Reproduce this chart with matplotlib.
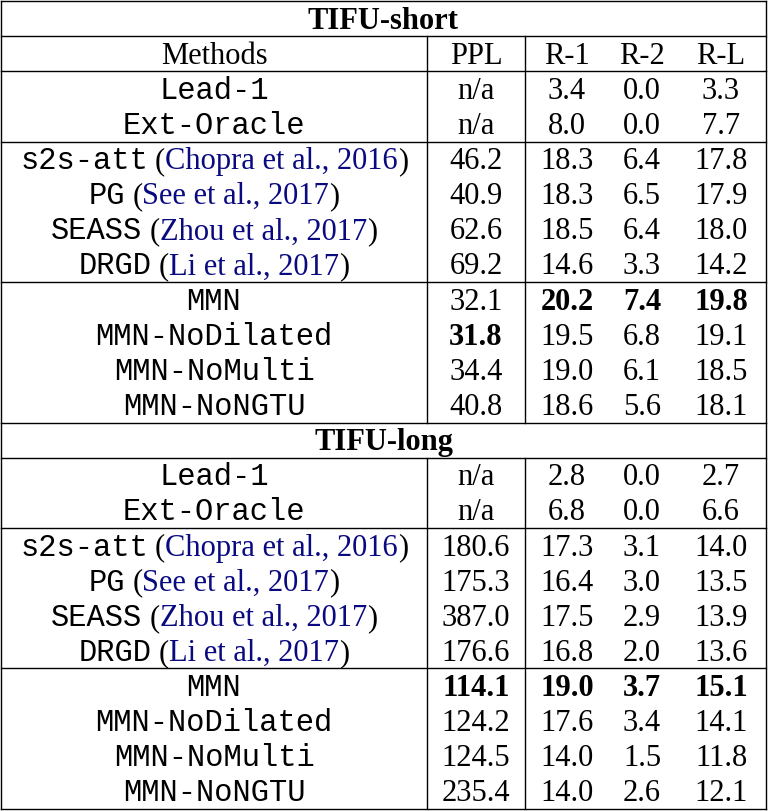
import numpy as np
import matplotlib
matplotlib.use("Agg")
import matplotlib.pyplot as plt

# ---- data ----
methods = ["Lead-1", "Ext-Oracle", "s2s-att", "PG", "SEASS", "DRGD",
           "MMN", "MMN-NoDilated", "MMN-NoMulti", "MMN-NoNGTU"]
cites = [None, None, "Chopra et al., 2016", "See et al., 2017",
         "Zhou et al., 2017", "Li et al., 2017", None, None, None, None]
columns = ["PPL", "R-1", "R-2", "R-L"]

short_ppl = [np.nan, np.nan, 46.2, 40.9, 62.6, 69.2, 32.1, 31.8, 34.4, 40.8]
short_r1 = [3.4, 8.0, 18.3, 18.3, 18.5, 14.6, 20.2, 19.5, 19.0, 18.6]
short_r2 = [0.0, 0.0, 6.4, 6.5, 6.4, 3.3, 7.4, 6.8, 6.1, 5.6]
short_rl = [3.3, 7.7, 17.8, 17.9, 18.0, 14.2, 19.8, 19.1, 18.5, 18.1]

long_ppl = [np.nan, np.nan, 180.6, 175.3, 387.0, 176.6, 114.1, 124.2, 124.5, 235.4]
long_r1 = [2.8, 6.8, 17.3, 16.4, 17.5, 16.8, 19.0, 17.6, 14.0, 14.0]
long_r2 = [0.0, 0.0, 3.1, 3.0, 2.9, 2.0, 3.7, 3.4, 1.5, 2.6]
long_rl = [2.7, 6.6, 14.0, 13.5, 13.9, 13.6, 15.1, 14.1, 11.8, 12.1]

sections = [("TIFU-short", [short_ppl, short_r1, short_r2, short_rl]),
            ("TIFU-long", [long_ppl, long_r1, long_r2, long_rl])]

# ---- layout ----
W, H = 769, 812
SERIF = "Liberation Serif"
MONO = "Liberation Mono"
FS = 22      # serif size (pt)
FS_MONO = 22
BLUE = "#0a0a80"

top, bottom = 2, 810
row_h = (bottom - top) / 23
x_left, x_meth, x_ppl, x_right = 1, 427, 525, 766
col_x = [476, 567, 642, 721]
meth_cx = 214
base_off = 9

fig = plt.figure(figsize=(W / 100, H / 100), dpi=100)
ax = fig.add_axes([0, 0, 1, 1])
ax.set_xlim(0, W)
ax.set_ylim(H, 0)
ax.axis("off")
renderer = fig.canvas.get_renderer()


def yrow(i):
    return top + row_h * (i + 0.5) + base_off


def put_parts(cx, y, parts):
    # parts: (text, family, size, color, gap_before)
    texts = []
    total = 0
    for s, fam, size, color, gap in parts:
        t = ax.text(0, y, s, family=fam, fontsize=size, color=color,
                    ha="left", va="baseline")
        w = t.get_window_extent(renderer).width
        texts.append((t, w, gap))
        total += w + gap
    x = cx - total / 2
    for t, w, gap in texts:
        x += gap
        t.set_x(x)
        x += w


def line_h(i, lw=1.0):
    y = top + row_h * i
    ax.plot([x_left, x_right], [y, y], color="black", lw=lw)


row = 0
for k, (title, vals) in enumerate(sections):
    ax.text((x_left + x_right) / 2, yrow(row), title, family=SERIF,
            fontsize=FS, fontweight="bold", ha="center", va="baseline")
    start = row
    row += 1
    if k == 0:
        ax.text(meth_cx, yrow(row), "Methods", family=SERIF, fontsize=FS,
                ha="center", va="baseline")
        for cx, c in zip(col_x, columns):
            ax.text(cx, yrow(row), c, family=SERIF, fontsize=FS,
                    ha="center", va="baseline")
        row += 1
    first = row
    # best values: lowest PPL, highest ROUGE
    best = [np.nanmin(vals[0])] + [np.max(v) for v in vals[1:]]
    for i, m in enumerate(methods):
        y = yrow(row)
        if cites[i] is None:
            ax.text(meth_cx, y, m, family=MONO, fontsize=FS_MONO,
                    ha="center", va="baseline")
        else:
            put_parts(meth_cx, y, [
                (m, MONO, FS_MONO, "black", 0),
                ("(", SERIF, FS, "black", 7),
                (cites[i], SERIF, FS, BLUE, 0),
                (")", SERIF, FS, "black", 0),
            ])
        for j, cx in enumerate(col_x):
            v = vals[j][i]
            s = "n/a" if np.isnan(v) else f"{v:.1f}"
            bold = (not np.isnan(v)) and v == best[j]
            ax.text(cx, y, s, family=SERIF, fontsize=FS,
                    fontweight="bold" if bold else "normal",
                    ha="center", va="baseline")
        row += 1
    end = row
    # lines
    line_h(start)
    line_h(start + 1)
    if k == 0:
        line_h(start + 2)
    line_h(first + 2)
    line_h(first + 6)
    y0 = top + row_h * (start + 1)
    y1 = top + row_h * end
    for xv in (x_meth, x_ppl):
        ax.plot([xv, xv], [y0, y1], color="black", lw=1.0)

line_h(23)
ax.plot([x_left, x_left], [top, bottom], color="black", lw=1.0)
ax.plot([x_right, x_right], [top, bottom], color="black", lw=1.0)

fig.savefig("out.png", dpi=100)
